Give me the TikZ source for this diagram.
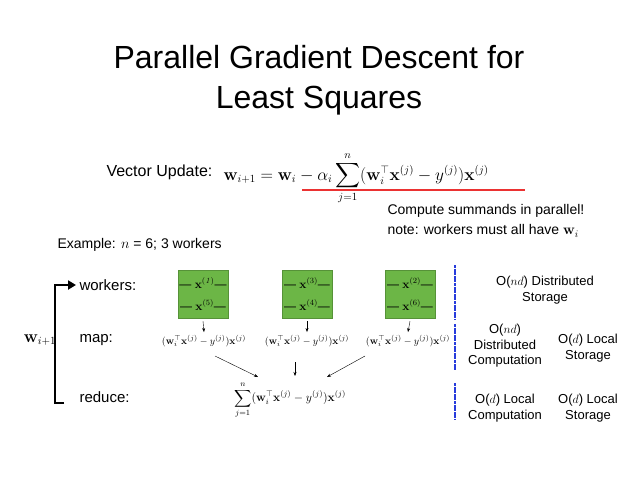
\documentclass[tikz,border=0pt]{standalone}
\usepackage{amsmath}
\usepackage[no-math]{fontspec}
\setmainfont{Liberation Sans}
\usetikzlibrary{arrows.meta}
\definecolor{gbox}{RGB}{108,182,70}
\definecolor{bline}{RGB}{40,60,220}
\definecolor{uline}{RGB}{235,50,50}
\begin{document}
\begin{tikzpicture}[x=1pt,y=-1pt,
  lab/.style={font=\fontsize{15}{18}\selectfont,anchor=west},
  cost/.style={font=\fontsize{13}{15.5}\selectfont,align=center},
  wbox/.style={fill=gbox,draw=gbox!80!black,minimum width=50pt,minimum height=48pt,inner sep=0pt,align=center,font=\fontsize{12}{22}\selectfont},
  mapf/.style={font=\fontsize{10}{12}\selectfont,inner sep=1pt},
  sarr/.style={-{Stealth[length=4pt]},thin},
  dsh/.style={bline,line width=2pt,dash pattern=on 3pt off 0.6pt}]
\useasboundingbox (0,0) rectangle (638,479);
\node (t) at (319,80) [align=center,font=\fontsize{32}{40}\selectfont] {Parallel Gradient Descent for\\Least Squares};
\node (vu) at (103,172) [anchor=west,font=\fontsize{16}{19}\selectfont] {Vector Update:};
\node (eq) at (220,178) [anchor=west,font=\fontsize{16}{19}\selectfont] {$\displaystyle\mathbf{w}_{i+1}=\mathbf{w}_i-\alpha_i\sum_{j=1}^{n}(\mathbf{w}_i^{\top}\mathbf{x}^{(j)}-y^{(j)})\mathbf{x}^{(j)}$};
\coordinate (ua) at (302,190); \coordinate (ub) at (525,190);
\draw[uline,line width=1.2pt] (ua) -- (ub);
\node (cs) at (384,221) [anchor=west,align=left,font=\fontsize{14}{20}\selectfont] {Compute summands in parallel!\\note: workers must all have $\mathbf{w}_i$};
\node (ex) at (54,245) [anchor=west,font=\fontsize{14}{17}\selectfont] {Example: $n$ = 6; 3 workers};
\node (lw) at (76,285) [lab] {workers:};
\node (lm) at (76,340) [lab] {map:};
\node (lr) at (76,397) [lab] {reduce:};
\node (wi) at (40,340) [font=\fontsize{16}{19}\selectfont] {$\mathbf{w}_{i+1}$};
\coordinate (b1) at (55,285); \coordinate (b2) at (55,403); \coordinate (b3) at (64,403);
\draw[line width=2pt,-{Triangle[length=8pt,width=9pt]}] (b3) -- (b2) -- (b1) -- (lw.west);
\node (w1) at (203,294) [wbox] {— $\mathbf{x}^{(\mathit{1})}$—\\— $\mathbf{x}^{(5)}$—};
\node (w2) at (307,294) [wbox] {— $\mathbf{x}^{(3)}$—\\— $\mathbf{x}^{(4)}$—};
\node (w3) at (410,294) [wbox] {— $\mathbf{x}^{(2)}$—\\— $\mathbf{x}^{(6)}$—};
\node (m1) at (204,341) [mapf] {$(\mathbf{w}_i^{\top}\mathbf{x}^{(j)}-y^{(j)})\mathbf{x}^{(j)}$};
\node (m2) at (307,341) [mapf] {$(\mathbf{w}_i^{\top}\mathbf{x}^{(j)}-y^{(j)})\mathbf{x}^{(j)}$};
\node (m3) at (408,341) [mapf] {$(\mathbf{w}_i^{\top}\mathbf{x}^{(j)}-y^{(j)})\mathbf{x}^{(j)}$};
\draw[sarr] ([yshift=-3pt]w1.south) -- ([yshift=2pt]m1.north);
\draw[sarr] ([yshift=-3pt]w2.south) -- ([yshift=2pt]m2.north);
\draw[sarr] ([yshift=-3pt]w3.south) -- ([yshift=2pt]m3.north);
\node (r) at (290,400) [mapf,font=\fontsize{11.5}{14}\selectfont] {$\displaystyle\sum_{j=1}^{n}(\mathbf{w}_i^{\top}\mathbf{x}^{(j)}-y^{(j)})\mathbf{x}^{(j)}$};
\coordinate (a1) at (215,356); \coordinate (a1e) at (258,377);
\coordinate (a2) at (295,362); \coordinate (a2e) at (295,376);
\coordinate (a3) at (365,356); \coordinate (a3e) at (327,377);
\draw[sarr] (a1) -- (a1e);
\draw[sarr] (a2) -- (a2e);
\draw[sarr] (a3) -- (a3e);
\coordinate (d1) at (455,265); \coordinate (d1e) at (455,320);
\coordinate (d2) at (455,324); \coordinate (d2e) at (455,370);
\coordinate (d3) at (455,383); \coordinate (d3e) at (455,420);
\draw[dsh] (d1) -- (d1e);
\draw[dsh] (d2) -- (d2e);
\draw[dsh] (d3) -- (d3e);
\node (c1) at (545,290) [cost] {O($nd$) Distributed\\Storage};
\node (c2) at (505,346) [cost] {O($nd$)\\Distributed\\Computation};
\node (c3) at (588,348) [cost] {O($d$) Local\\Storage};
\node (c4) at (505,408) [cost] {O($d$) Local\\Computation};
\node (c5) at (588,408) [cost] {O($d$) Local\\Storage};
\end{tikzpicture}
\end{document}
